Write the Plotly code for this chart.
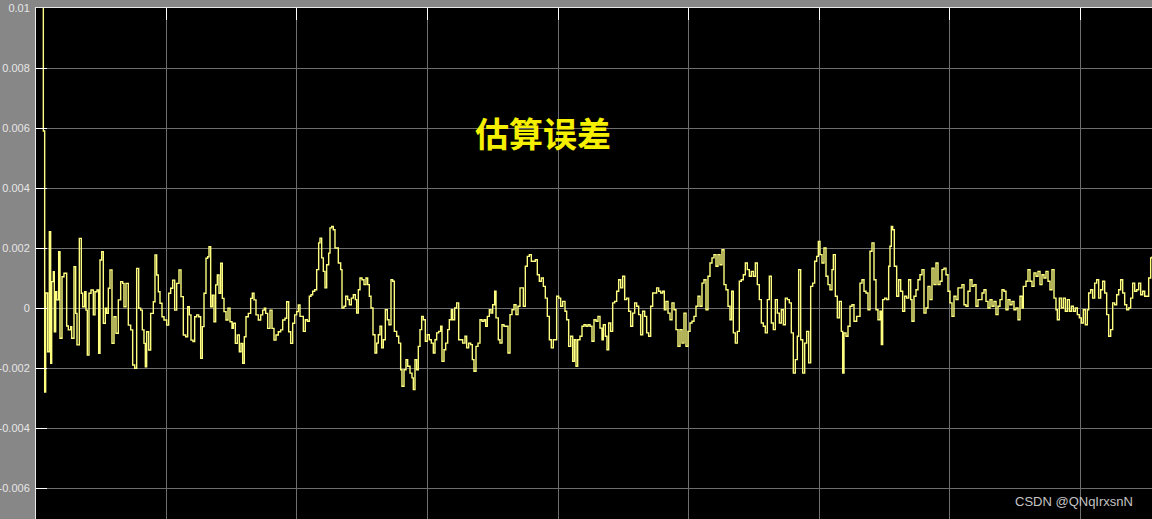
import plotly.graph_objects as go

# sample index of the scope trace (fixed-step simulation samples)
sample_idx = [
    19, 20, 24, 27, 33, 38, 42, 45, 50, 53, 57, 60, 66, 70, 76, 82, 90, 95, 102, 105,
    112, 117, 121, 128, 134, 138, 144, 148, 152, 157, 163, 170, 175, 181, 186, 190, 195, 200, 206, 210,
    215, 220, 226, 232, 238, 245, 252, 258, 262, 268, 275, 282, 288, 294, 300, 306, 312, 317, 322, 326,
    330, 336, 342, 350, 355, 360, 365, 370, 376, 382, 390, 396, 402, 408, 414, 420, 427, 433, 440, 447,
    453, 458, 463, 469, 474, 480, 486, 492, 497, 502, 508, 513, 517, 522, 527, 532, 537, 542, 547, 552,
    557, 562, 568, 574, 580, 586, 590, 596, 602, 608, 613, 618, 623, 628, 635, 642, 647, 652, 658, 665,
    672, 678, 683, 687, 693, 700, 706, 712, 718, 725, 732, 738, 745, 750, 756, 762, 768, 774, 780, 785,
    790, 800, 806, 812, 818, 823, 828, 834, 840, 846, 850, 855, 860, 865, 870, 876, 880, 885, 890, 895,
    900, 905, 912, 916, 922, 927, 933, 938, 944, 950, 956, 960, 965, 970, 976, 982, 988, 993, 998, 1003,
    1009, 1015, 1020, 1025, 1030, 1035, 1040, 1046, 1052, 1057, 1063, 1068, 1073, 1080, 1086, 1092, 1096, 1102, 1108, 1113,
    1120, 1126, 1130, 1135, 1140, 1145, 1150, 1155, 1160, 1166, 1172, 1178, 1184, 1190, 1195, 1200, 1206, 1212, 1216, 1222,
    1227, 1233, 1238, 1244, 1248, 1254, 1260, 1266, 1272, 1278, 1285, 1290, 1296, 1302, 1307, 1312, 1318, 1324, 1330, 1336,
    1342, 1347, 1352, 1358, 1363, 1368, 1374, 1378, 1385, 1390, 1396, 1402, 1408, 1414, 1420, 1426, 1432, 1438, 1444, 1450,
    1455, 1460, 1466, 1472, 1478, 1484, 1490, 1496, 1502, 1508, 1514, 1520, 1526, 1532, 1538, 1544, 1550, 1556, 1560, 1566,
    1572, 1578, 1585, 1590, 1596, 1602, 1608, 1613, 1618, 1623, 1630, 1636, 1642, 1648, 1654, 1660, 1666, 1672, 1678, 1684,
    1690, 1696, 1700, 1706, 1711, 1716, 1722, 1728, 1734, 1740, 1746, 1752, 1758, 1764, 1770, 1776, 1782, 1788, 1794, 1800,
    1806, 1812, 1818, 1824, 1830, 1836, 1842, 1848, 1854, 1860, 1866, 1872, 1878, 1883, 1888, 1894, 1900, 1906, 1912, 1918,
    1924, 1930, 1936, 1942, 1948, 1954, 1960, 1966, 1972, 1978, 1984, 1990, 1996, 2002, 2008, 2014, 2020, 2026, 2032, 2038,
    2044, 2050, 2056, 2062, 2068, 2074, 2080, 2085, 2090, 2096, 2102, 2108, 2114, 2120, 2126, 2132, 2138, 2144, 2150, 2156,
    2162, 2168, 2174, 2180, 2186, 2192, 2198, 2204, 2210, 2216, 2222, 2228, 2234, 2240, 2246, 2252, 2258, 2264, 2270, 2276,
    2282, 2286, 2292, 2298, 2304, 2310, 2316, 2322, 2328, 2334, 2340, 2345, 2350, 2356, 2362, 2368, 2374, 2380, 2386, 2390,
    2396, 2402, 2408, 2414, 2418, 2422, 2428, 2434, 2440, 2446, 2452, 2460, 2470, 2476, 2482, 2488, 2494, 2500, 2506, 2512,
    2518, 2524, 2530, 2534, 2538, 2544, 2550, 2556, 2560, 2564, 2568, 2573, 2580, 2586, 2592, 2598, 2604, 2610, 2616, 2622,
    2626, 2632, 2638, 2644, 2650, 2656, 2662, 2668, 2674, 2680, 2686, 2692, 2698, 2704, 2710, 2716, 2722, 2728, 2734, 2740,
    2746, 2752, 2758, 2764, 2770, 2776, 2782, 2788, 2794, 2800, 2806, 2812, 2818, 2824, 2830, 2836, 2842, 2848, 2854, 2860,
    2866, 2872, 2878, 2884, 2890, 2896, 2902, 2908, 2914, 2920, 2926, 2932, 2938, 2944, 2950, 2956, 2960, 2968, 2974, 2980,
    2986, 2992, 2998, 3004, 3010, 3016, 3022, 3028, 3034, 3040, 3046, 3052, 3058, 3062, 3068, 3074, 3080, 3086, 3092, 3098,
    3104, 3110, 3116, 3122, 3128, 3134, 3140, 3146, 3152, 3156, 3162, 3168, 3174, 3180, 3186, 3192, 3198, 3204, 3210, 3216,
    3222, 3228, 3234, 3240, 3246, 3252, 3258, 3264, 3270, 3276, 3282, 3288, 3294, 3300, 3306, 3312, 3318, 3324, 3330, 3336,
    3342, 3346,
]

# estimation error values
est_error = [
    15e-3, 5.9e-3, -2.8e-3, 0.5e-3, -1.46e-3, 2.54e-3, -1.84e-3, 0.88e-3, 1.21e-3, -0.79e-3, 0.54e-3, 0.27e-3, 1.88e-3, -1.01e-3, 1.04e-3, 1.16e-3, -0.6e-3, -0.73e-3, -0.62e-3, -1.01e-3,
    1.38e-3, -0.18e-3, -1.23e-3, 2.32e-3, 0.49e-3, 0.04e-3, 0.54e-3, -0.07e-3, -1.57e-3, 0.49e-3, 0.6e-3, -0.23e-3, 0.54e-3, 0.6e-3, -1.51e-3, 1.6e-3, 1.88e-3, -0.51e-3, -0.01e-3, -0.18e-3,
    0.66e-3, 1.27e-3, -1.18e-3, -0.29e-3, -0.84e-3, 0.27e-3, 0.88e-3, 0.82e-3, 0.04e-3, 0.82e-3, -0.57e-3, -0.73e-3, -1.9e-3, -2.01e-3, 1.32e-3, -0.01e-3, -0.07e-3, -0.73e-3, -1.18e-3, -1.96e-3,
    -0.79e-3, -1.4e-3, -0.18e-3, 0.21e-3, 1.77e-3, 1.1e-3, 0.54e-3, 0.16e-3, -0.29e-3, -0.4e-3, -0.57e-3, 0.49e-3, 0.66e-3, 0.93e-3, -0.07e-3, 0.82e-3, 1.27e-3, 0.38e-3, -0.9e-3, -0.96e-3,
    0.04e-3, -0.23e-3, -1.07e-3, -1.12e-3, -0.29e-3, -0.23e-3, -0.29e-3, -1.68e-3, -0.62e-3, 0.49e-3, 1.66e-3, 1.71e-3, 2.04e-3, 0.04e-3, 0.43e-3, -0.46e-3, 0.77e-3, 1.1e-3, 0.49e-3, 1.49e-3,
    0.32e-3, -0.12e-3, -0.4e-3, -0.01e-3, -0.46e-3, -0.68e-3, -0.51e-3, -1.18e-3, -0.9e-3, -1.46e-3, -1.18e-3, -1.84e-3, -0.96e-3, -0.29e-3, -0.18e-3, 0.32e-3, 0.49e-3, 0.27e-3, -0.23e-3, -0.4e-3,
    -0.23e-3, -0.07e-3, -0.01e-3, -0.18e-3, -0.68e-3, -0.07e-3, -0.68e-3, -1.07e-3, -0.9e-3, -0.79e-3, -0.73e-3, -0.4e-3, -0.34e-3, 0.21e-3, -0.79e-3, -1.18e-3, -0.51e-3, -0.23e-3, -0.12e-3, 0.1e-3,
    -0.28e-3, -0.78e-3, -0.39e-3, -0.44e-3, 0.39e-3, 0.44e-3, 0.56e-3, 0.61e-3, 1.28e-3, 2.17e-3, 2.33e-3, 1.67e-3, 1.22e-3, 0.67e-3, 1.44e-3, 1.83e-3, 2.67e-3, 2.72e-3, 2.61e-3, 2.0e-3,
    2.0e-3, 1.5e-3, 1.28e-3, 0.0e-3, 0.06e-3, 0.39e-3, 0.28e-3, 0.11e-3, 0.33e-3, 0.44e-3, 0.28e-3, -0.17e-3, 0.61e-3, 1.0e-3, 0.94e-3, 0.78e-3, 1.0e-3, 0.78e-3, 0.39e-3, 0.0e-3,
    -0.89e-3, -1.5e-3, -1.17e-3, -0.89e-3, -0.61e-3, -1.33e-3, -1.06e-3, -0.06e-3, -0.39e-3, -0.56e-3, 0.94e-3, 0.89e-3, -0.78e-3, -0.94e-3, -1.17e-3, -2.06e-3, -2.61e-3, -2.06e-3, -1.72e-3, -1.94e-3,
    -2.17e-3, -2.33e-3, -2.72e-3, -1.72e-3, -2.06e-3, -1.28e-3, -0.72e-3, -0.28e-3, -0.39e-3, -1.11e-3, -0.89e-3, -1.06e-3, -1.17e-3, -1.5e-3, -1.06e-3, -0.83e-3, -0.78e-3, -0.61e-3, -1.78e-3, -1.39e-3,
    -1.17e-3, -0.72e-3, -0.39e-3, -0.06e-3, -0.39e-3, 0.0e-3, 0.17e-3, -1.06e-3, -1.06e-3, -1.17e-3, -0.94e-3, -1.33e-3, -1.17e-3, -1.22e-3, -1.72e-3, -2.11e-3, -1.28e-3, -1.17e-3, -0.39e-3, -0.44e-3,
    -0.39e-3, -0.61e-3, -0.28e-3, -0.06e-3, -0.17e-3, 0.11e-3, 0.56e-3, -0.33e-3, -1.06e-3, -1.17e-3, -0.56e-3, -0.61e-3, -0.61e-3, -1.5e-3, -0.22e-3, -0.06e-3, 0.11e-3, -0.22e-3, 0.06e-3, 0.67e-3,
    0.67e-3, 0.06e-3, 1.39e-3, 1.72e-3, 1.78e-3, 1.56e-3, 1.56e-3, 1.61e-3, 1.11e-3, 0.89e-3, 1.0e-3, 0.72e-3, 0.33e-3, -0.28e-3, -1.06e-3, -1.33e-3, -1.06e-3, -1.06e-3, 0.39e-3, 0.33e-3,
    0.06e-3, 0.22e-3, -0.11e-3, -0.39e-3, -1.28e-3, -0.94e-3, -1.78e-3, -1.06e-3, -1.94e-3, -1.06e-3, -0.94e-3, -0.61e-3, -0.56e-3, -0.61e-3, -0.56e-3, -0.61e-3, -1.11e-3, -0.39e-3, -0.44e-3, -0.28e-3,
    -0.67e-3, -1.06e-3, -0.56e-3, -0.94e-3, -1.39e-3, -0.5e-3, -0.78e-3, 0.17e-3, 0.22e-3, 0.56e-3, 0.94e-3, 0.67e-3, 1.06e-3, 0.28e-3, 0.33e-3, -0.11e-3, -0.61e-3, -0.17e-3, 0.17e-3, 0.06e-3,
    -0.22e-3, -0.89e-3, -0.11e-3, -0.28e-3, -0.83e-3, -0.94e-3, 0.06e-3, 0.5e-3, 0.5e-3, 0.67e-3, 0.56e-3, 0.5e-3, 0.56e-3, -0.06e-3, 0.22e-3, -0.17e-3, -0.39e-3, 0.17e-3, -0.06e-3, -0.72e-3,
    -1.28e-3, -0.72e-3, -1.17e-3, -0.17e-3, -1.28e-3, -0.78e-3, -0.5e-3, -0.44e-3, -0.28e-3, 0.06e-3, 0.39e-3, 0.06e-3, 0.83e-3, 0.94e-3, -0.06e-3, 1.06e-3, 1.5e-3, 1.67e-3, 1.78e-3, 1.39e-3,
    1.78e-3, 1.44e-3, 1.94e-3, 0.78e-3, 0.61e-3, 0.06e-3, -0.39e-3, 0.56e-3, -0.83e-3, -1.17e-3, -0.78e-3, 0.89e-3, 0.94e-3, 1.11e-3, 1.5e-3, 1.28e-3, 1.06e-3, 1.22e-3, 1.06e-3, 1.5e-3,
    0.78e-3, 0.28e-3, -0.5e-3, -0.61e-3, -0.83e-3, 0.28e-3, 1.06e-3, -0.5e-3, -0.72e-3, 0.28e-3, -0.17e-3, -0.5e-3, -0.06e-3, -0.56e-3, 0.33e-3, 0.28e-3, 0.17e-3, -0.83e-3, -2.17e-3, -1.72e-3,
    -0.94e-3, 1.28e-3, -1.06e-3, -2.17e-3, -1.17e-3, -0.78e-3, -1.83e-3, 0.72e-3, 0.83e-3, 1.56e-3, 1.72e-3, 2.22e-3, 1.78e-3, 1.5e-3, 2.0e-3, 1.06e-3, 0.78e-3, 0.61e-3, 1.28e-3, 1.78e-3,
    0.39e-3, -0.33e-3, 0.22e-3, -0.78e-3, -2.17e-3, -0.83e-3, -0.94e-3, -0.61e-3, 0.06e-3, 0.11e-3, -0.44e-3, -0.28e-3, 0.83e-3, 0.94e-3, 0.56e-3, 0.5e-3, -0.06e-3, 1.89e-3, 2.17e-3, 0.94e-3,
    -0.06e-3, -0.39e-3, -0.11e-3, -1.22e-3, 0.28e-3, 0.33e-3, 0.28e-3, 1.39e-3, 2.06e-3, 2.72e-3, 2.61e-3, 1.39e-3, 0.39e-3, 0.94e-3, 0.56e-3, -0.11e-3, 0.39e-3, 0.33e-3, 0.94e-3, 0.28e-3,
    -0.44e-3, 0.39e-3, 0.61e-3, 0.94e-3, 1.11e-3, 1.28e-3, -0.17e-3, 0.0e-3, 0.72e-3, 0.28e-3, 1.33e-3, 0.78e-3, 1.5e-3, 0.78e-3, 0.89e-3, 1.28e-3, 1.33e-3, 1.11e-3, 0.56e-3, 0.17e-3,
    -0.28e-3, 0.39e-3, 0.28e-3, 0.67e-3, 0.67e-3, 0.78e-3, 0.11e-3, 0.06e-3, 0.56e-3, 0.94e-3, 0.72e-3, 0.78e-3, 0.06e-3, 0.28e-3, 0.28e-3, 0.5e-3, 0.61e-3, 0.22e-3, 0.0e-3, 0.28e-3,
    0.06e-3, 0.22e-3, -0.22e-3, 0.06e-3, 0.28e-3, 0.61e-3, 0.56e-3, -0.06e-3, 0.28e-3, 0.11e-3, 0.22e-3, -0.06e-3, 0.0e-3, -0.39e-3, 0.39e-3, 0.0e-3, 0.72e-3, 0.89e-3, 1.28e-3, 0.89e-3,
    0.72e-3, 1.17e-3, 1.06e-3, 1.22e-3, 0.78e-3, 1.11e-3, 1.0e-3, 1.22e-3, 0.89e-3, 0.61e-3, 1.28e-3, 0.33e-3, -0.06e-3, -0.39e-3, 0.33e-3, 0.0e-3, 0.33e-3, -0.11e-3, 0.28e-3, -0.11e-3,
    0.06e-3, -0.11e-3, 0.0e-3, -0.22e-3, -0.33e-3, -0.5e-3, -0.06e-3, -0.56e-3, -0.06e-3, 0.5e-3, 0.61e-3, 0.33e-3, 0.83e-3, 0.94e-3, 0.33e-3, 0.61e-3, 0.89e-3, 0.5e-3, -0.22e-3, -0.94e-3,
    -0.72e-3, 0.17e-3, 0.11e-3, 0.44e-3, 0.61e-3, 0.94e-3, 0.5e-3, 0.11e-3, -0.06e-3, 0.0e-3, 0.33e-3, 0.83e-3, 0.56e-3, 0.61e-3, 0.83e-3, 0.44e-3, 0.56e-3, 0.39e-3, 0.39e-3, 1.0e-3,
    1.67e-3, 1.72e-3,
]

ytick_vals = [0.01, 0.008, 0.006, 0.004, 0.002, 0, -0.002, -0.004, -0.006]
ytick_text = ["0.01", "0.008", "0.006", "0.004", "0.002", "0", "-0.002", "-0.004", "-0.006"]

title_text = "估算误差"
watermark_text = "CSDN @QNqIrxsnN"

fig = go.Figure()
fig.add_trace(go.Scatter(
    x=sample_idx, y=est_error, mode="lines",
    line=dict(color="#ffff80", width=1.4, shape="hv"),
    showlegend=False, hoverinfo="skip",
))

fig.update_layout(
    width=1152, height=519,
    margin=dict(l=36, r=0, t=8, b=0, pad=0),
    paper_bgcolor="#878787",
    plot_bgcolor="#000000",
    font=dict(family="Liberation Sans, Arial, sans-serif", color="#e6e6e6", size=11),
    xaxis=dict(
        range=[-2, 3346], tick0=389, dtick=391.7,
        side="top", ticks="inside", ticklen=12, tickcolor="#ffffff", tickwidth=1,
        showticklabels=False, automargin=False,
        showgrid=True, gridcolor="#6e6e6e", gridwidth=1,
        showline=True, linecolor="#e8e8e8", linewidth=1,
        zeroline=False,
    ),
    yaxis=dict(
        range=[-0.007033, 0.01], automargin=False,
        tickmode="array", tickvals=ytick_vals, ticktext=ytick_text,
        ticks="inside", ticklen=11, tickcolor="#ffffff", tickwidth=1,
        showgrid=True, gridcolor="#6e6e6e", gridwidth=1,
        showline=True, linecolor="#e8e8e8", linewidth=1,
        zeroline=False,
        tickfont=dict(size=11, color="#e6e6e6"),
        ticklabelstandoff=3,
    ),
    annotations=[
        dict(text=title_text, xref="paper", yref="paper", x=0.4543, y=0.757,
             xanchor="center", yanchor="middle", showarrow=False,
             font=dict(family="Noto Sans CJK SC", size=34, color="#f5f000", weight="bold")),
        dict(text=watermark_text, xref="paper", yref="paper", x=0.985, y=0.035,
             xanchor="right", yanchor="middle", showarrow=False,
             font=dict(family="Liberation Sans, Arial, sans-serif", size=13, color="#c4c4c4")),
    ],
)

fig.write_html(
    "out.html",
    config={"displayModeBar": False},
    post_script="document.body.style.margin='0';document.body.style.overflow='hidden';",
)
